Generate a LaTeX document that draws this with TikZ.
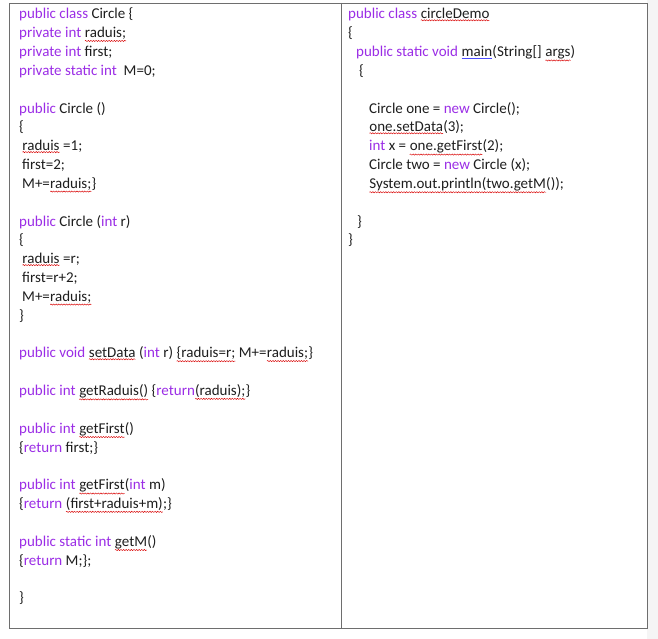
\documentclass[tikz,border=0pt]{standalone}
\usepackage{fontspec}
\setmainfont{Carlito}
\usetikzlibrary{decorations.pathmorphing}
\definecolor{kwc}{RGB}{155,45,230}
\definecolor{frm}{RGB}{110,110,110}
\definecolor{txt}{RGB}{30,30,30}
\newcommand{\kw}[1]{\textcolor{kwc}{#1}}
\newcommand{\sq}[1]{\begin{tikzpicture}[baseline=(t.base)]\node[inner sep=0pt,outer sep=0pt](t){#1};\draw[red!85!black,line width=0.45pt,decorate,decoration={snake,amplitude=0.6pt,segment length=2.6pt}]([yshift=-1.2pt]t.south west)--([yshift=-1.2pt]t.south east);\end{tikzpicture}}
\newcommand{\bl}[1]{\begin{tikzpicture}[baseline=(t.base)]\node[inner sep=0pt,outer sep=0pt](t){#1};\draw[blue!70!white,line width=0.6pt]([yshift=-1.2pt]t.south west)--([yshift=-1.2pt]t.south east);\end{tikzpicture}}
\tikzset{ln/.style={anchor=base west,inner sep=0pt,text=txt,font=\fontsize{15}{17}\selectfont}}
\begin{document}
\begin{tikzpicture}[x=1pt,y=-1pt]
\useasboundingbox (0,0) rectangle (658,639);
\fill[white] (0,0) rectangle (658,639);
\fill[black!4] (647,0) rectangle (658,639);
\draw[frm,line width=0.8pt] (9,3) rectangle (647,628);
\draw[frm,line width=0.8pt] (341,3) -- (341,628);
\def\L#1{19+18.83*#1}
% left column
\node[ln] (l0) at (19,{\L0}) {\kw{public class} Circle \{};
\node[ln] (l1) at (19,{\L1}) {\kw{private int} \sq{raduis;}};
\node[ln] (l2) at (19,{\L2}) {\kw{private int} first;};
\node[ln] (l3) at (19,{\L3}) {\kw{private static int}\ \ M=0;};
\node[ln] (l5) at (19,{\L5}) {\kw{public} Circle ()};
\node[ln] (l6) at (19,{\L6}) {\{};
\node[ln] (l7) at (22,{\L7}) {\sq{raduis} =1;};
\node[ln] (l8) at (22,{\L8}) {first=2;};
\node[ln] (l9) at (22,{\L9}) {M+=\sq{raduis;}\}};
\node[ln] (l11) at (19,{\L{11}}) {\kw{public} Circle (\kw{int} r)};
\node[ln] (l12) at (19,{\L{12}}) {\{};
\node[ln] (l13) at (22,{\L{13}}) {\sq{raduis} =r;};
\node[ln] (l14) at (22,{\L{14}}) {first=r+2;};
\node[ln] (l15) at (22,{\L{15}}) {M+=\sq{raduis;}};
\node[ln] (l16) at (19,{\L{16}}) {\}};
\node[ln] (l18) at (19,{\L{18}}) {\kw{public void} \sq{setData} (\kw{int} r) \sq{\{raduis=r;} M+=\sq{raduis;}\}};
\node[ln] (l20) at (19,{\L{20}}) {\kw{public int} \sq{getRaduis()} \{\kw{return}\sq{(raduis);}\}};
\node[ln] (l22) at (19,{\L{22}}) {\kw{public int} \sq{getFirst}()};
\node[ln] (l23) at (19,{\L{23}}) {\{\kw{return} first;\}};
\node[ln] (l25) at (19,{\L{25}}) {\kw{public int} \sq{getFirst}(\kw{int} m)};
\node[ln] (l26) at (19,{\L{26}}) {\{\kw{return} \sq{(first+raduis+m)};\}};
\node[ln] (l28) at (19,{\L{28}}) {\kw{public static int} \sq{getM}()};
\node[ln] (l29) at (19,{\L{29}}) {\{\kw{return} M;\};};
\node[ln] (l31) at (19,{\L{31}}) {\}};
% right column
\node[ln] (r0) at (348,{\L0}) {\kw{public class} \sq{circleDemo}};
\node[ln] (r1) at (348,{\L1}) {\{};
\node[ln] (r2) at (356,{\L2}) {\kw{public static void} \bl{main}(String[] \sq{args})};
\node[ln] (r3) at (359,{\L3}) {\{};
\node[ln] (r5) at (369,{\L5}) {Circle one = \kw{new} Circle();};
\node[ln] (r6) at (369,{\L6}) {\sq{one.setData}(3);};
\node[ln] (r7) at (369,{\L7}) {\kw{int} x = \sq{one.getFirst}(2);};
\node[ln] (r8) at (369,{\L8}) {Circle two = \kw{new} Circle (x);};
\node[ln] (r9) at (369,{\L9}) {\sq{System.out.println(two.getM}());};
\node[ln] (r11) at (357,{\L{11}}) {\}};
\node[ln] (r12) at (348,{\L{12}}) {\}};
\end{tikzpicture}
\end{document}
